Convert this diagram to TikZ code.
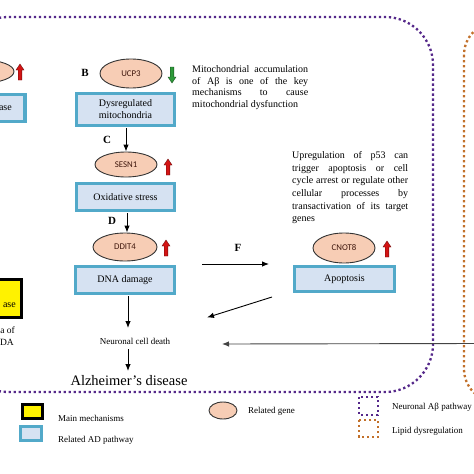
\documentclass[tikz,border=0pt]{standalone}
\usepackage{fontspec}
\setmainfont{Liberation Serif}
\newfontfamily\genefont{Carlito}
\usetikzlibrary{shapes.geometric,arrows.meta}
\definecolor{boxblue}{HTML}{52A9C9}
\definecolor{boxfill}{HTML}{D6E2F2}
\definecolor{genefill}{HTML}{F7CDB5}
\definecolor{genetext}{HTML}{3E160C}
\definecolor{purpdot}{HTML}{55288A}
\definecolor{orgdot}{HTML}{C2702A}
\definecolor{upred}{HTML}{D41414}
\definecolor{downgreen}{HTML}{2E9A3A}
\definecolor{longgray}{HTML}{444444}
\tikzset{
  pathbox/.style={draw=boxblue, fill=boxfill, line width=3.2pt, inner sep=0pt, align=center, font=\fontsize{10}{12}\selectfont},
  mainbox/.style={draw=black, fill=yellow, line width=2.6pt, inner sep=0pt},
  gene/.style={ellipse, draw=black!80, fill=genefill, line width=0.9pt, inner sep=0pt, font=\genefont\fontsize{8.8}{10}\selectfont\color{genetext}},
  arr/.style={-{Latex[length=7pt,width=5.5pt]}, line width=0.9pt},
  letter/.style={font=\fontsize{11}{12}\selectfont\bfseries, inner sep=0pt},
  para/.style={inner sep=0pt, align=left, anchor=north west},
  plain/.style={inner sep=0pt},
  legtext/.style={inner sep=0pt, anchor=west, font=\fontsize{9}{10}\selectfont},
  purpledots/.style={draw=purpdot, line width=2.3pt, dash pattern=on 2.3pt off 2.7pt},
  orangedots/.style={draw=orgdot, line width=2.3pt, dash pattern=on 2.3pt off 2.7pt},
  uparrow/.pic={\filldraw[fill=upred, draw=upred!50!black, line width=0.4pt]
     (-1.8,0) -- (1.8,0) -- (1.8,-10) -- (4,-10) -- (0,-16) -- (-4,-10) -- (-1.8,-10) -- cycle;},
  downarrow/.pic={\filldraw[fill=downgreen, draw=downgreen!50!black, line width=0.4pt]
     (-1.8,0) -- (1.8,0) -- (1.8,10) -- (4,10) -- (0,16) -- (-4,10) -- (-1.8,10) -- cycle;}
}
\begin{document}
\begin{tikzpicture}[x=1pt,y=-1pt]
\useasboundingbox (0,0) rectangle (474,474);
\fill[white] (0,0) rectangle (474,474);

% dotted group outlines
\draw[purpledots, rounded corners=48] (-40,17) rectangle (433,392);
\draw[orangedots, rounded corners=33] (464,22) rectangle (540,402);

% left partial elements
\node[gene, minimum width=62, minimum height=23] (lgene) at (-17,71.5) {};
\pic at (20,80) {uparrow};
\node[pathbox, minimum width=105, minimum height=26.5] (lbox) at (-27.5,108) {};
\node[plain, anchor=east, font=\fontsize{10}{12}\selectfont] (lboxtxt) at (12,108) {ase};
\node[mainbox, minimum width=103, minimum height=38.5] (ymain) at (-30,298.5) {};
\node[plain, anchor=east, font=\fontsize{10}{12}\selectfont] (ymaintxt) at (16,305) {ase};
\node[plain, anchor=east, font=\fontsize{9.5}{11}\selectfont] (lt1) at (15,330) {a of};
\node[plain, anchor=east, font=\fontsize{9.5}{11}\selectfont] (lt2) at (14,342) {DA};

% main column
\node[letter] (lB) at (85,73) {B};
\node[gene, minimum width=62, minimum height=29] (ucp3) at (131,73.5) {UCP3};
\pic at (172,67) {downarrow};
\node[pathbox, minimum width=97.5, minimum height=31.5] (box1) at (125.5,109.5) {Dysregulated\\mitochondria};

\node[letter] (lC) at (107,140) {C};
\node[gene, minimum width=62, minimum height=25] (sesn1) at (126,164.5) {SESN1};
\pic at (168,175) {uparrow};
\node[pathbox, minimum width=97.5, minimum height=26.5] (box2) at (125.5,197) {Oxidative stress};

\node[letter] (lD) at (112,221) {D};
\node[gene, minimum width=64, minimum height=28] (ddit4) at (125,247) {DDIT4};
\pic at (166,256) {uparrow};
\node[pathbox, minimum width=98.5, minimum height=26.5] (box3) at (125,280) {DNA damage};

\node[plain, font=\fontsize{9}{10}\selectfont] (death) at (135,341) {Neuronal cell death};
\node[plain, font=\fontsize{14.5}{16}\selectfont] (ad) at (129,381) {Alzheimer’s disease};

\draw[arr] (box1.south) ++(0.5,1.6) coordinate (b1s) -- (b1s |- sesn1.north);
\draw[arr] (box2.south) ++(1.5,1.6) coordinate (b2s) -- (b2s |- ddit4.north);
\coordinate (b3s) at ([xshift=3pt,yshift=-1.6pt]box3.south);
\coordinate (b3e) at (128,328);
\draw[arr] (b3s) -- (b3e);
\coordinate (d1) at (128,349);
\coordinate (d2) at (128,371);
\draw[arr] (d1) -- (d2);

% right column
\node[para, font=\fontsize{10}{11.5}\selectfont] (txt1) at (192,65.5) {%
\makebox[116pt][s]{Mitochondrial accumulation}\\
\makebox[116pt][s]{of Aβ is one of the key}\\
\makebox[116pt][s]{mechanisms to cause}\\
mitochondrial dysfunction};

\node[para, font=\fontsize{10}{12.6}\selectfont] (txt2) at (292,151.5) {%
\makebox[116pt][s]{Upregulation of p53 can}\\
\makebox[116pt][s]{trigger apoptosis or cell}\\
\makebox[116pt][s]{cycle arrest or regulate other}\\
\makebox[116pt][s]{cellular processes by}\\
\makebox[116pt][s]{transactivation of its target}\\
genes};

\node[gene, minimum width=62, minimum height=30] (cnot8) at (344,248) {CNOT8};
\pic at (387,257) {uparrow};
\node[pathbox, minimum width=100, minimum height=24.5] (apop) at (344.5,279) {Apoptosis};

% F arrow and incoming arrows
\node[letter] (lF) at (238,248) {F};
\coordinate (f1) at (202,264);
\coordinate (f2) at (269,264);
\draw[arr] (f1) -- (f2);
\coordinate (g1) at (272,297);
\coordinate (g2) at (207,317.5);
\draw[arr] (g1) -- (g2);
\coordinate (h1) at (480,343.5);
\coordinate (h2) at (222,344);
\draw[arr, draw=longgray] (h1) -- (h2);

% legend
\node[mainbox, minimum width=20.5, minimum height=14.5] (legy) at (32.5,411.5) {};
\node[legtext] (legytxt) at (58,418) {Main mechanisms};
\node[pathbox, minimum width=21, minimum height=14] (legb) at (31,433.5) {};
\node[legtext] (legbtxt) at (58,440) {Related AD pathway};
\node[gene, minimum width=28, minimum height=17] (legg) at (223,410.5) {};
\node[legtext] (leggtxt) at (248,411) {Related gene};
\draw[purpledots] (359,397) rectangle (378,415);
\node[legtext] (legptxt) at (392,407) {Neuronal Aβ pathway};
\draw[orangedots] (359,420) rectangle (378,437);
\node[legtext] (legotxt) at (392,431) {Lipid dysregulation};
\end{tikzpicture}
\end{document}
